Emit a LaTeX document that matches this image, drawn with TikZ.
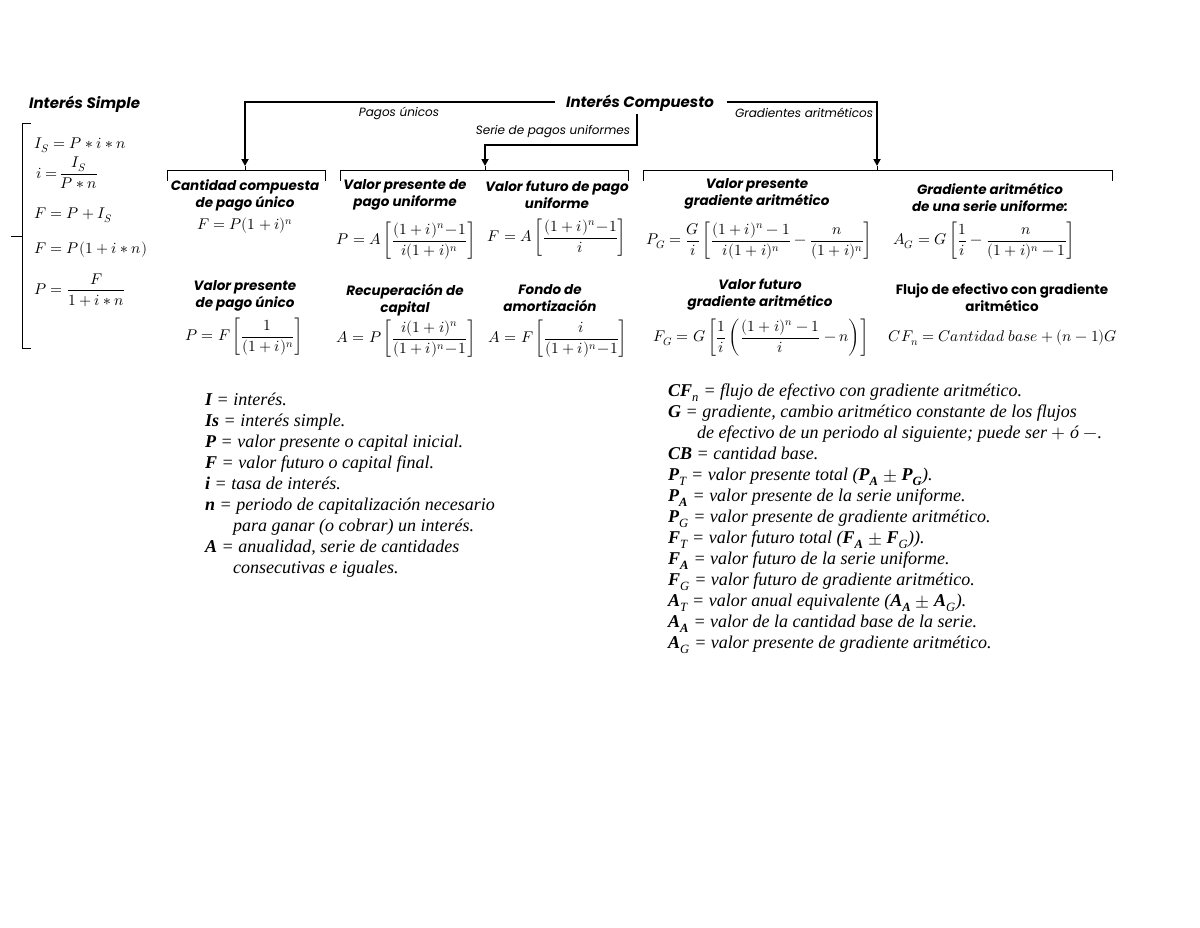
\documentclass[tikz,border=0pt]{standalone}
\usepackage{amsmath}
\usepackage{fontspec}
\usepackage{unicode-math}
\setmainfont{Liberation Serif}
\setmathfont{Latin Modern Math}
\newfontfamily\gothic{Poppins}
\usetikzlibrary{arrows.meta}
\tikzset{
  ttl/.style={font=\fontsize{13.5}{17}\selectfont\gothic\bfseries\itshape, align=center, inner sep=0pt},
  ttlu/.style={font=\fontsize{13.5}{17}\selectfont\gothic\bfseries, align=center, inner sep=0pt},
  lbl/.style={font=\fontsize{12}{13}\selectfont\gothic\itshape, inner sep=0pt},
  eq/.style={font=\fontsize{15.5}{18}\selectfont, inner sep=0pt},
  lgd/.style={font=\fontsize{18}{21}\selectfont\itshape, align=left, inner sep=0pt, anchor=north west},
  arr/.style={line width=2.6pt, -{Triangle[length=7pt,width=7pt]}},
  brk/.style={line width=0.7pt},
}
\newcommand{\bs}[1]{\textbf{\textit{#1}}}
\begin{document}
\begin{tikzpicture}[x=1pt,y=-1pt]
\useasboundingbox[fill=white] (0,0) rectangle (1200,927);

% Interes simple
\node[font=\fontsize{15}{18}\selectfont\gothic\bfseries\itshape, anchor=west, inner sep=0pt] (is) at (29,104) {Interés Simple};
\coordinate (lb1) at (31,123);
\coordinate (lb2) at (31,348);
\coordinate (lbm) at (11,236);
\draw[brk] (lb1) -- (22,123) -- (22,348) -- (lb2);
\draw[brk] (lbm) -- (22,236);
\node[eq, anchor=west] (s1) at (34,145) {$I_S = P*i*n$};
\node[eq, anchor=west] (s2) at (36,173) {$i =\!\dfrac{I_S}{P*n}$};
\node[eq, anchor=west] (s3) at (34,215) {$F = P + I_S$};
\node[eq, anchor=west] (s4) at (34,250) {$F = P(1+i*n)$};
\node[eq, anchor=west] (s5) at (34,290) {$P = \dfrac{F}{1+i*n}$};

% Interes compuesto
\node[font=\fontsize{15}{18}\selectfont\gothic\bfseries\itshape, inner sep=0pt] (ic) at (640,103) {Interés Compuesto};
\coordinate (ic0) at (555,102);
\coordinate (ic1) at (727,102);
\coordinate (m0) at (637,114);
\coordinate (t1) at (245,166);
\coordinate (t2) at (485,166);
\coordinate (t3) at (877,166);
\draw[arr] (ic0) -| (t1);
\draw[arr] (ic1) -| (t3);
\draw[arr] (m0) -- (637,145) -| (t2);
\node[lbl] (l1) at (399,113) {Pagos únicos};
\node[lbl] (l2) at (553,132) {Serie de pagos uniformes};
\node[lbl] (l3) at (804,113) {Gradientes aritméticos};

% brackets
\draw[brk] (167,181) -- (167,170) -- (325,170) -- (325,181);
\draw[brk] (t1) -- (245,170);
\draw[brk] (340,181) -- (340,170) -- (628,170) -- (628,181);
\draw[brk] (t2) -- (485,170);
\draw[brk] (643,181) -- (643,170) -- (1112,170) -- (1112,181);
\draw[brk] (t3) -- (877,170);

% row 1
\node[ttl] (h1) at (245,195) {Cantidad compuesta\\de pago único};
\node[eq] (e1) at (245,226) {$F = P(1+i)^n$};
\node[ttl] (h2) at (405,195) {Valor presente de\\pago uniforme};
\node[eq] (e2) at (406,241) {$P = A\left[\dfrac{(1+i)^n\!-\!1}{i(1+i)^n}\right]$};
\node[ttl] (h3) at (557,195) {Valor futuro de pago\\uniforme};
\node[eq] (e3) at (557,238) {$F = A\left[\dfrac{(1+i)^n\!-\!1}{i}\right]$};
\node[ttl] (h4) at (757,194) {Valor presente\\gradiente aritmético};
\node[eq] (e4) at (759,241) {$P_G = \dfrac{G}{i}\left[\dfrac{(1+i)^n-1}{i(1+i)^n} - \dfrac{n}{(1+i)^n}\right]$};
\node[ttl] (h5) at (990,197) {Gradiente aritmético\\de una serie uniforme:};
\node[eq] (e5) at (984,241) {$A_G = G\left[\dfrac{1}{i} - \dfrac{n}{(1+i)^n-1}\right]$};

% row 2
\node[ttl] (h6) at (245,296) {Valor presente\\de pago único};
\node[eq] (e6) at (244,337) {$P = F\left[\dfrac{1}{(1+i)^n}\right]$};
\node[ttl] (h7) at (405,300) {Recuperación de\\capital};
\node[eq] (e7) at (406,339) {$A = P\left[\dfrac{i(1+i)^n}{(1+i)^n\!-\!1}\right]$};
\node[ttl] (h8) at (550,298) {Fondo de\\amortización};
\node[eq] (e8) at (558,339) {$A = F\left[\dfrac{i}{(1+i)^n\!-\!1}\right]$};
\node[ttl] (h9) at (760,295) {Valor futuro\\gradiente aritmético};
\node[eq] (e9) at (761,338) {$F_G = G\left[\dfrac{1}{i}\left(\dfrac{(1+i)^n-1}{i} - n\right)\right]$};
\node[ttlu] (h10) at (1002,298) {Flujo de efectivo con gradiente\\aritmético};
\node[eq] (e10) at (1003,338) {$CF_n = \symit{Cantidad\ base} + (n-1)G$};

% legends
\node[lgd] (lg1) at (205,393) {%
\bs{I} = interés.\\
\bs{Is} = interés simple.\\
\bs{P} = valor presente o capital inicial.\\
\bs{F} = valor futuro o capital final.\\
\bs{i} = tasa de interés.\\
\bs{n} = periodo de capitalización necesario\\
\hspace*{28pt}para ganar (o cobrar) un interés.\\
\bs{A} = anualidad, serie de cantidades\\
\hspace*{28pt}consecutivas e iguales.};

\node[lgd] (lg2) at (668,384) {%
\bs{CF}\textsubscript{\textit{n}} = flujo de efectivo con gradiente aritmético.\\
\bs{G} = gradiente, cambio aritmético constante de los flujos\\
\hspace*{29pt}de efectivo de un periodo al siguiente; puede ser $+$ ó $-$.\\
\bs{CB} = cantidad base.\\
\bs{P}\textsubscript{\textit{T}} = valor presente total (\bs{P}\textsubscript{\bs{A}} $\pm$ \bs{P}\textsubscript{\bs{G}}).\\
\bs{P}\textsubscript{\bs{A}} = valor presente de la serie uniforme.\\
\bs{P}\textsubscript{\textit{G}} = valor presente de gradiente aritmético.\\
\bs{F}\textsubscript{\textit{T}} = valor futuro total (\bs{F}\textsubscript{\bs{A}} $\pm$ \bs{F}\textsubscript{\textit{G}})).\\
\bs{F}\textsubscript{\bs{A}} = valor futuro de la serie uniforme.\\
\bs{F}\textsubscript{\textit{G}} = valor futuro de gradiente aritmético.\\
\bs{A}\textsubscript{\textit{T}} = valor anual equivalente (\bs{A}\textsubscript{\bs{A}} $\pm$ \bs{A}\textsubscript{\textit{G}}).\\
\bs{A}\textsubscript{\bs{A}} = valor de la cantidad base de la serie.\\
\bs{A}\textsubscript{\textit{G}} = valor presente de gradiente aritmético.};
\end{tikzpicture}
\end{document}
